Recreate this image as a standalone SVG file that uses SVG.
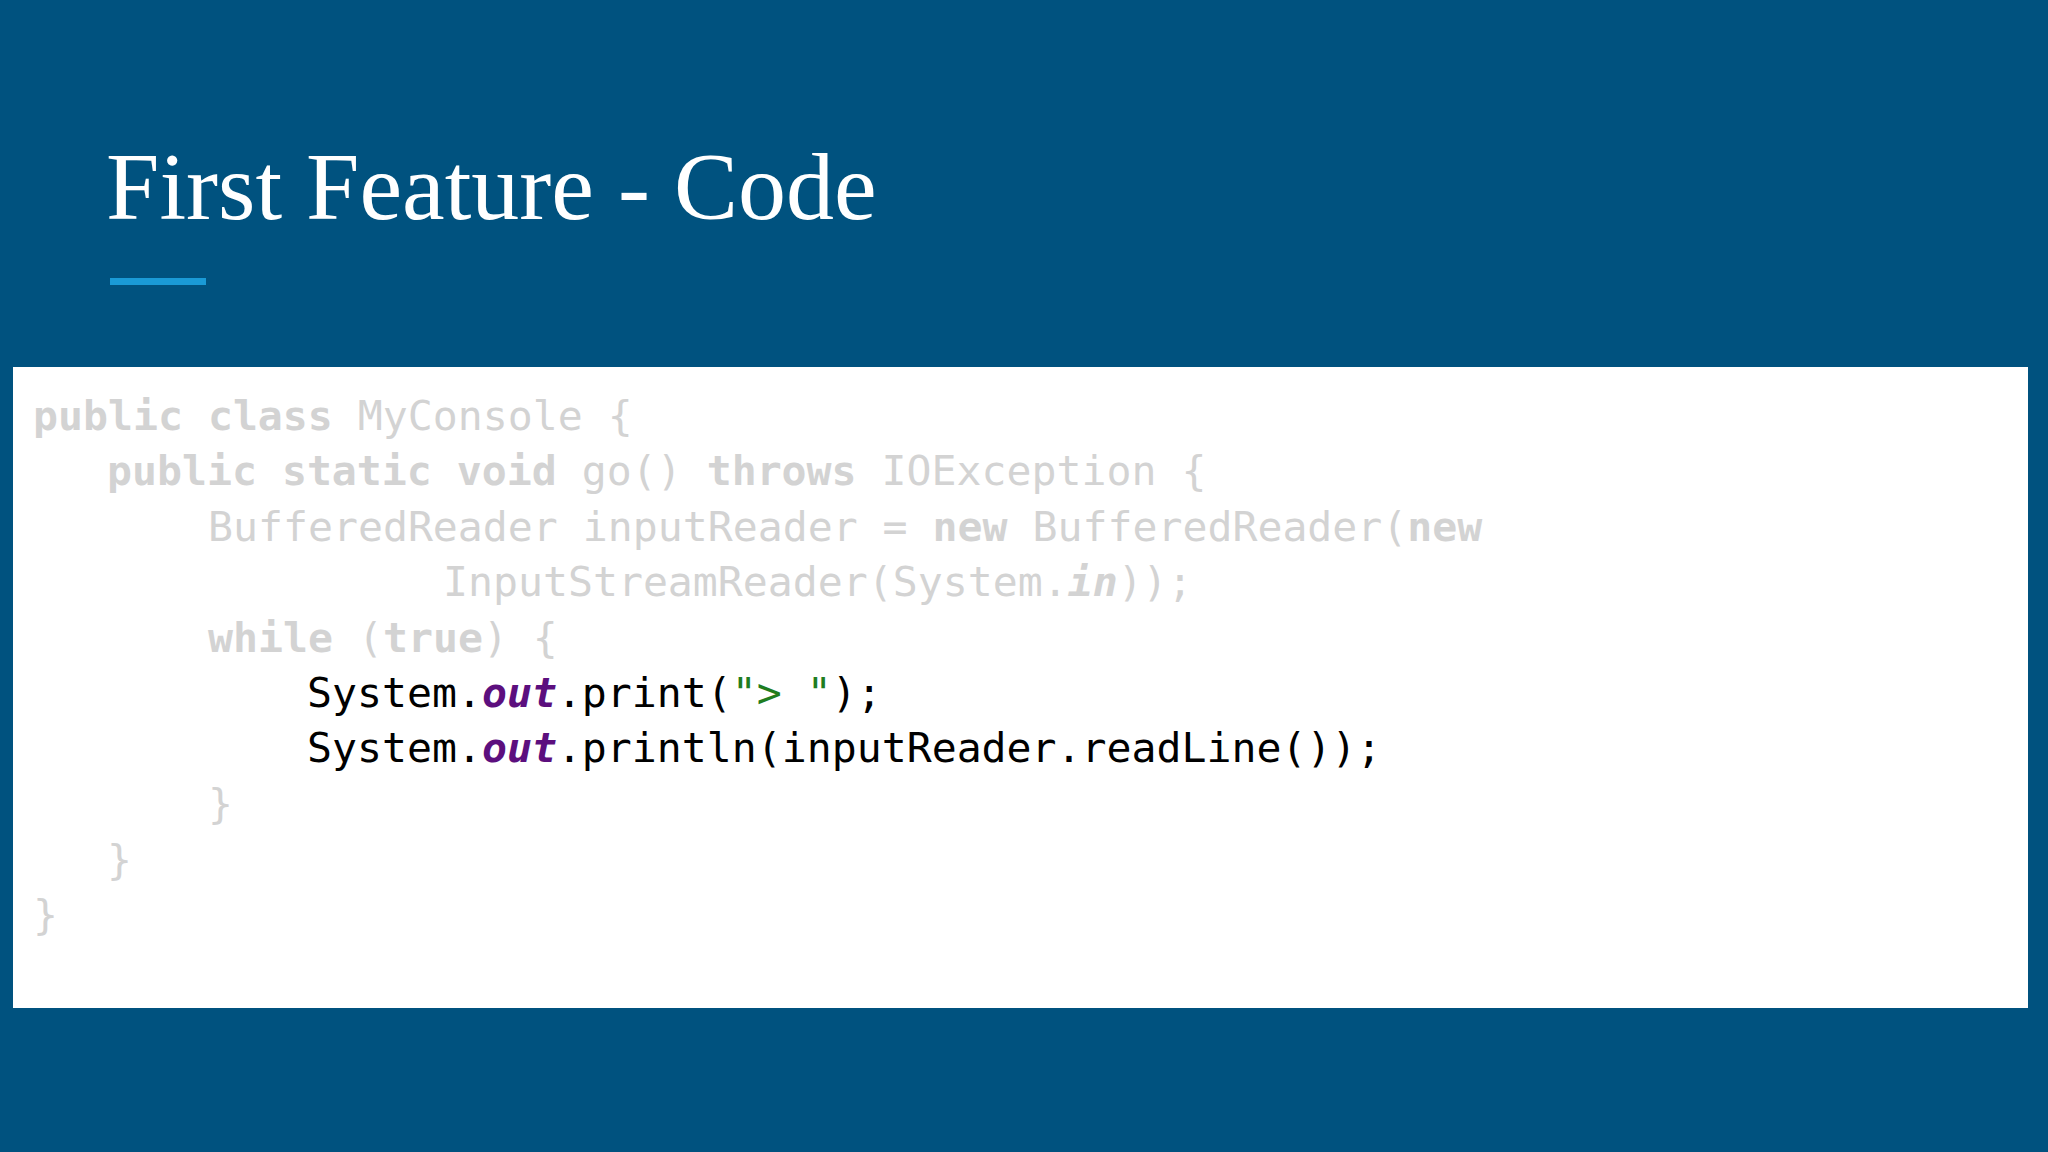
<svg xmlns="http://www.w3.org/2000/svg" width="2048" height="1152" viewBox="0 0 2048 1152">
<style>
.c{font-family:"DejaVu Sans Mono","Liberation Mono",monospace;font-size:41.5px;white-space:pre}
.f{fill:#d3d3d3}
.k{font-weight:bold}
.b{fill:#000}
.o{fill:#5c0f7e;font-weight:bold;font-style:italic}
.s{fill:#1f7d1f}
</style>
<rect width="2048" height="1152" fill="#00527f"/>
<g id="title">
<text x="106" y="219" font-family="Liberation Serif, serif" font-size="96" fill="#fff">First Feature - Code</text>
<rect x="110" y="278" width="96" height="7" fill="#1a9ad6"/>
</g>
<g id="code">
<rect x="13" y="367" width="2015" height="641" fill="#fff"/>
<text class="c f" x="33" y="430"><tspan class="k">public class</tspan> MyConsole {</text>
<text class="c f" x="107" y="485"><tspan class="k">public static void</tspan> go() <tspan class="k">throws</tspan> IOException {</text>
<text class="c f" x="208" y="541">BufferedReader inputReader = <tspan class="k">new</tspan> BufferedReader(<tspan class="k">new</tspan></text>
<text class="c f" x="443" y="596">InputStreamReader(System.<tspan font-style="italic" font-weight="bold">in</tspan>));</text>
<text class="c f" x="208" y="652"><tspan class="k">while</tspan> (<tspan class="k">true</tspan>) {</text>
<text class="c b" x="307" y="707">System.<tspan class="o">out</tspan>.print(<tspan class="s">"&gt; "</tspan>);</text>
<text class="c b" x="307" y="762">System.<tspan class="o">out</tspan>.println(inputReader.readLine());</text>
<text class="c f" x="208" y="818">}</text>
<text class="c f" x="107" y="874">}</text>
<text class="c f" x="33" y="929">}</text>
</g>
</svg>
